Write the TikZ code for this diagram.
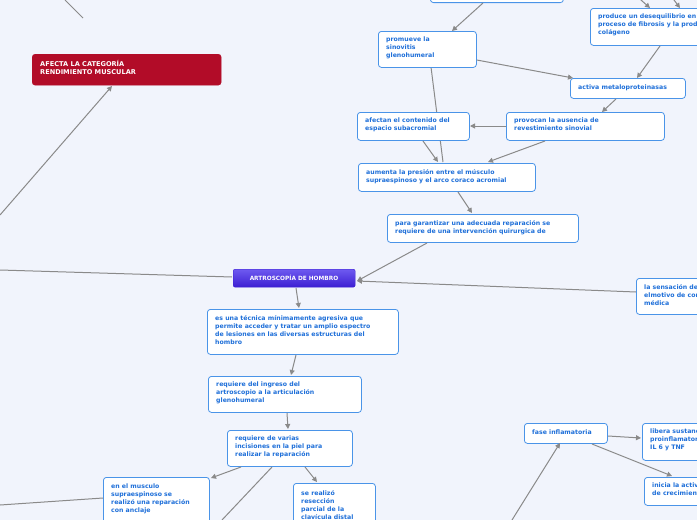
\documentclass[tikz,border=0pt]{standalone}
\usepackage{fontspec}
\setmainfont{DejaVu Sans}
\usetikzlibrary{arrows.meta}
\definecolor{bg}{HTML}{F1F4FC}
\definecolor{bd}{HTML}{4A94E8}
\definecolor{tx}{HTML}{1E6FD9}
\definecolor{ln}{HTML}{8A8A8A}
\definecolor{redbox}{HTML}{B20C28}
\definecolor{purtop}{HTML}{6E5AF0}
\definecolor{purbot}{HTML}{3C1ED2}
\tikzset{
 box/.style={draw=bd,fill=white,rounded corners=3pt,line width=0.8pt},
 lbl/.style={anchor=north west,text=tx,font=\bfseries\fontsize{6.2}{8}\selectfont,align=left,inner sep=0pt},
 arr/.style={draw=ln,line width=1pt,-{Triangle[length=5pt,width=5pt]}},
 lin/.style={draw=ln,line width=1pt},
}
\begin{document}
\begin{tikzpicture}[x=1pt,y=-1pt]
\useasboundingbox[fill=bg] (0,0) rectangle (697,520);
\begin{scope}
\clip (0,0) rectangle (697,520);
\coordinate (tl1) at (65,0); \coordinate (tl2) at (83,18);
\draw[lin] (tl1)--(tl2);
\coordinate (lf1) at (0,215); \coordinate (lf2) at (0,270); \coordinate (lf3) at (0,505);
\coordinate (bt1) at (222,520); \coordinate (bt2) at (512,520);
\coordinate (tp1) at (632,-8); \coordinate (tp2) at (668,-8);
\draw[arr] (tp1)--(650,8); \draw[arr] (tp2)--(680,8);
\draw[lin] (431,67)--(443,162);
\node[box,minimum width=133pt,minimum height=14pt,anchor=south west] (top) at (430,3) {};
\node[box,minimum width=98pt,minimum height=36pt,anchor=north west] (prom) at (378,31) {};
\node[lbl] at (386,37) {promueve la\\sinovitis\\glenohumeral};
\node[box,minimum width=125pt,minimum height=37pt,anchor=north west] (prod) at (590,8) {};
\node[lbl] at (598,14) {produce un desequilibrio en el\\proceso de fibrosis y la producción\\colágeno};
\node[box,minimum width=115pt,minimum height=20pt,anchor=north west] (act) at (570,78) {};
\node[lbl] at (578,84.5) {activa metaloproteinasas};
\node[box,minimum width=112pt,minimum height=28pt,anchor=north west] (afe) at (357,112) {};
\node[lbl] at (365,118) {afectan el contenido del\\espacio subacromial};
\node[box,minimum width=158pt,minimum height=28pt,anchor=north west] (prov) at (506,112) {};
\node[lbl] at (514,118) {provocan la ausencia de\\revestimiento sinovial};
\node[box,minimum width=177pt,minimum height=28pt,anchor=north west] (aum) at (358,163) {};
\node[lbl] at (366,169) {aumenta la presión entre el músculo\\supraespinoso y el arco coraco acromial};
\node[box,minimum width=191pt,minimum height=28pt,anchor=north west] (para) at (387,214) {};
\node[lbl] at (395,220) {para garantizar una adecuada reparación se\\requiere de una intervención quirurgica de};
\node[draw=redbox,fill=redbox,rounded corners=3pt,minimum width=189pt,minimum height=31pt,anchor=north west] (afc) at (32,54) {};
\node[lbl,text=white,font=\bfseries\fontsize{6.6}{8.5}\selectfont] at (40,60) {AFECTA LA CATEGORÍA\\RENDIMIENTO MUSCULAR};
\node[draw=purbot,top color=purtop,bottom color=purbot,rounded corners=2pt,minimum width=122pt,minimum height=18pt,anchor=north west] (art) at (233,269) {};
\node[text=white,font=\bfseries\fontsize{5.8}{7}\selectfont] at (294,278) {ARTROSCOPÍA DE HOMBRO};
\node[box,minimum width=80pt,minimum height=36pt,anchor=north west] (sen) at (636,278) {};
\node[lbl] at (644,284) {la sensación de dolor es\\elmotivo de consulta\\médica};
\node[box,minimum width=191pt,minimum height=45pt,anchor=north west] (tec) at (207,309) {};
\node[lbl] at (215,315) {es una técnica mínimamente agresiva que\\permite acceder y tratar un amplio espectro\\de lesiones  en las diversas estructuras del\\hombro};
\node[box,minimum width=153pt,minimum height=36pt,anchor=north west] (ing) at (208,376) {};
\node[lbl] at (216,382) {requiere del ingreso del\\artroscopio a la articulación\\glenohumeral};
\node[box,minimum width=125pt,minimum height=36pt,anchor=north west] (inc) at (227,430) {};
\node[lbl] at (235,436) {requiere de varias\\incisiones en la piel para\\realizar la reparación};
\node[box,minimum width=106pt,minimum height=50pt,anchor=north west] (mus) at (103,477) {};
\node[lbl] at (111,484) {en el musculo\\supraespinoso se\\realizó una reparación\\con anclaje};
\node[box,minimum width=82pt,minimum height=45pt,anchor=north west] (res) at (293,483) {};
\node[lbl] at (301,490) {se realizó\\resección\\parcial de la\\clavícula distal};
\node[box,minimum width=83pt,minimum height=20pt,anchor=north west] (fase) at (524,423) {};
\node[lbl] at (532,429.5) {fase inflamatoria};
\node[box,minimum width=75pt,minimum height=37pt,anchor=north west] (lib) at (642,423) {};
\node[lbl] at (650,429) {libera sustancias\\proinflamatorias\\IL 6 y TNF};
\node[box,minimum width=75pt,minimum height=28pt,anchor=north west] (ini) at (644,477) {};
\node[lbl] at (652,483) {inicia la actividad\\de crecimiento};
\draw[arr] (483,3)--(452,31);
\draw[arr] (prom.east|-0,60)--(573,78);
\draw[arr] (660,46)--(637,78);
\draw[arr] (423,141)--(438,162);
\draw[arr] (prov.west|-0,126)--(470,126);
\draw[arr] (616,99)--(602,112);
\draw[arr] (545,141)--(488,162);
\draw[arr] (458,192)--(472,213);
\draw[arr] (427,243)--(357,281);
\draw[arr] (lf1)--(112,86);
\draw[lin] (lf2)--(232,277);
\draw[arr] (636,292)--(357,281);
\draw[arr] (296,288)--(299,308);
\draw[arr] (296,355)--(291,375);
\draw[arr] (287,413)--(288,429);
\draw[arr] (241,467)--(211,478);
\draw[lin] (272,467)--(bt1);
\draw[arr] (305,467)--(317,482);
\draw[lin] (lf3)--(103,498);
\draw[arr] (bt2)--(560,443);
\draw[arr] (608,436)--(641,438);
\draw[arr] (592,444)--(672,476);
\end{scope}
\end{tikzpicture}
\end{document}
